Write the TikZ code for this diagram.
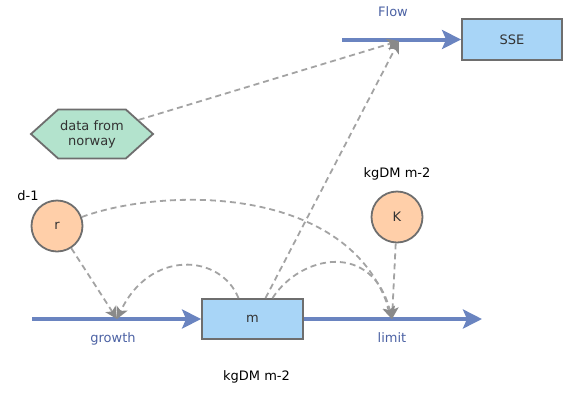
\documentclass[tikz,border=0pt]{standalone}
\usepackage{fontspec}
\setmainfont{DejaVu Sans}
\usepackage{xcolor}
\usepackage{tikz}
\usetikzlibrary{shapes,arrows.meta,positioning}
\definecolor{stockblue}{HTML}{A8D5F7}
\definecolor{flowblue}{HTML}{6A84C0}
\definecolor{labelblue}{HTML}{4C62A4}
\definecolor{paramorange}{HTML}{FFCFA9}
\definecolor{datagreen}{HTML}{B3E3CD}
\definecolor{edgegray}{HTML}{6E6E6E}
\definecolor{linkgray}{HTML}{A3A3A3}
\definecolor{linkhead}{HTML}{8A8A8A}

\begin{document}
\begin{tikzpicture}[x=1pt, y=1pt, font=\fontsize{13}{15}\selectfont, node distance=10pt,
    stock/.style={draw=edgegray, line width=1.8pt, fill=stockblue, minimum width=101pt, minimum height=40pt, text=black!80},
    param/.style={draw=edgegray, line width=1.8pt, fill=paramorange, circle, minimum size=51pt, inner sep=0pt, text=black!80},
    flowline/.style={draw=flowblue, line width=4pt, -{Stealth[length=19pt, width=19pt, inset=4pt]}},
    link/.style={draw=linkgray, line width=1.8pt, dash pattern=on 6pt off 4pt, -{Stealth[length=12pt, width=12pt, inset=3pt, color=linkhead]}},
    flowlabel/.style={text=labelblue}]
    \useasboundingbox (0,0) rectangle (564,-402);

    \node [stock] (m) at (252.5,-319) {m};
    \node [stock, minimum width=100pt, minimum height=41pt] (sse) at (512,-39.5) {SSE};
    \node [param] (r) at (57,-226) {r};
    \node [param] (K) at (397,-217) {K};
    \node [signal, signal to=west and east, signal pointer angle=84, draw=edgegray, line width=1.8pt, fill=datagreen,
        minimum width=116pt, minimum height=49pt, inner xsep=2pt, align=center, text=black!80] (data) at (92,-134) {data from\\norway};

    \coordinate (flowin) at (342,-39.5);
    \coordinate (fvalve) at (399,-41);
    \coordinate (gin) at (32,-319);
    \coordinate (gvalve) at (117,-319);
    \coordinate (lvalve) at (392,-319);
    \coordinate (lout) at (482,-319);

    \draw [flowline] (flowin) -- (sse);
    \draw [flowline] (gin) -- (m);
    \draw [flowline] (m) -- (lout);

    \node [flowlabel, above=21pt of fvalve, xshift=-6pt] (flowlbl) {Flow};
    \node [flowlabel, below=of gvalve, xshift=-4pt] (growthlbl) {growth};
    \node [flowlabel, below=of lvalve] (limitlbl) {limit};
    \node [below=27pt of m, xshift=4pt] (munit) {kgDM m-2};
    \node [above=7pt of K] (Kunit) {kgDM m-2};
    \node (runit) at (28,-196) {d-1};

    \draw [link] (data) -- (fvalve);
    \draw [link] ([xshift=13pt]m.north) -- (fvalve);
    \draw [link] (r) -- (gvalve);
    \draw [link] (K) -- (lvalve);
    \draw [link] (r) to[out=20, in=107, out looseness=0.7, in looseness=1.1] (lvalve);
    \draw [link] ([xshift=-14pt]m.north) to[out=112, in=65, out looseness=1, in looseness=1.6] (gvalve);
    \draw [link] ([xshift=20pt]m.north) to[out=57, in=104, out looseness=1.1, in looseness=1.7] (lvalve);
\end{tikzpicture}
\end{document}
